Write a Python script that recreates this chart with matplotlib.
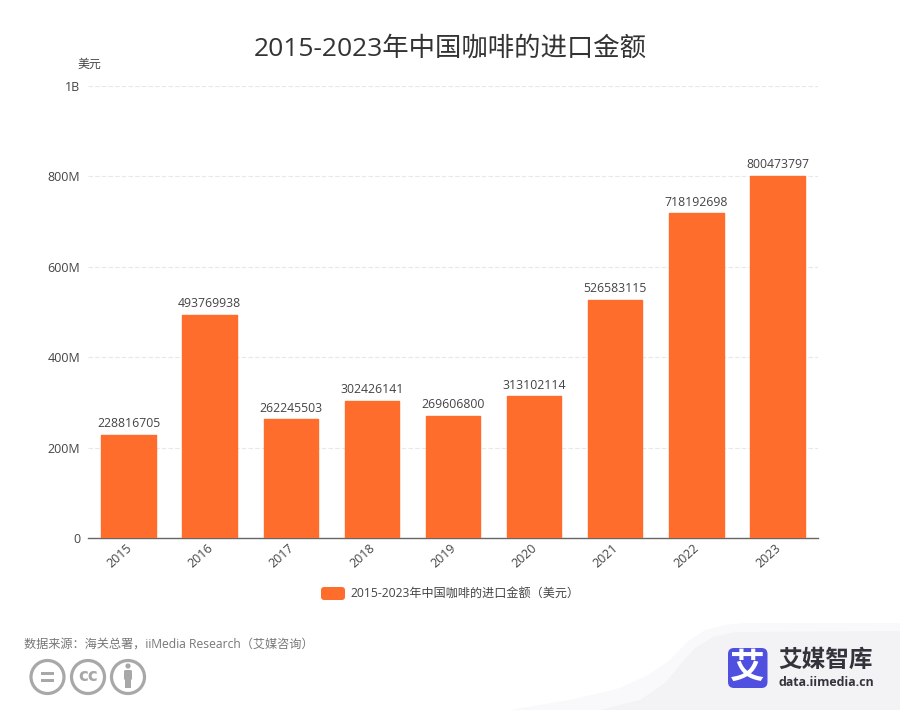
import matplotlib
matplotlib.use("Agg")
import matplotlib.pyplot as plt
from matplotlib.patches import FancyBboxPatch, Circle, Polygon, Rectangle
from matplotlib.transforms import ScaledTranslation
import numpy as np

FONTS = ['Open Sans', 'Noto Sans CJK SC', 'DejaVu Sans']
plt.rcParams['font.family'] = FONTS

years = ['2015', '2016', '2017', '2018', '2019', '2020', '2021', '2022', '2023']
values = [228816705, 493769938, 262245503, 302426141, 269606800, 313102114, 526583115, 718192698, 800473797]
y_ticks = [0, 200e6, 400e6, 600e6, 800e6, 1e9]
y_labels = ['0', '200M', '400M', '600M', '800M', '1B']
title = '2015-2023年中国咖啡的进口金额'
series_name = '2015-2023年中国咖啡的进口金额（美元）'
source = '数据来源：海关总署，iiMedia Research（艾媒咨询）'

W, H = 900, 710
ORANGE = '#FF6D2D'
TXT = '#444444'
fig = plt.figure(figsize=(W / 100, H / 100), dpi=100, facecolor='white')

# pixel-space backdrop
bg = fig.add_axes([0, 0, 1, 1], zorder=0)
bg.set_xlim(0, W); bg.set_ylim(H, 0); bg.axis('off')
bg.add_patch(Polygon([(510, 710), (570, 700), (620, 688), (650, 674), (670, 660), (687, 642),
                      (705, 630), (725, 625), (745, 623), (900, 623), (900, 710)], fc='#F9F9FB', ec='none'))
bg.add_patch(Polygon([(600, 710), (640, 700), (665, 683), (680, 665), (695, 648), (713, 637),
                      (735, 632), (900, 631), (900, 710)], fc='#F3F3F6', ec='none'))

ax = fig.add_axes([88 / W, 1 - 538 / H, (818 - 88) / W, (538 - 86) / H], zorder=1)
ax.patch.set_alpha(0)
x = np.arange(len(years))
bars = ax.bar(x, values, width=0.672, color=ORANGE, edgecolor=ORANGE, linewidth=1,
              joinstyle='round', zorder=3)
ax.set_xlim(-0.5, len(years) - 0.5)
ax.set_ylim(0, 1e9)
ax.set_xticks(x, years, rotation=42, ha='right', va='top', rotation_mode='anchor', fontsize=9, color=TXT)
ax.set_yticks(y_ticks, y_labels, fontsize=9, color=TXT)
ax.tick_params(axis='both', length=0)
ax.tick_params(axis='x', pad=2.5)
ax.tick_params(axis='y', pad=5.5)
shift = ScaledTranslation(-3 / 100, 0, fig.dpi_scale_trans)
for lab in ax.get_xticklabels():
    lab.set_transform(lab.get_transform() + shift)
ax.grid(axis='y', color='#E8E8E8', linestyle=(0, (4, 2)), linewidth=0.8, zorder=0)
ax.set_axisbelow(True)
for s in ['top', 'right', 'left']:
    ax.spines[s].set_visible(False)
ax.spines['bottom'].set_color('#666666')
ax.spines['bottom'].set_linewidth(1)
ax.bar_label(bars, labels=[str(v) for v in values], padding=3.5, fontsize=8.8, color=TXT)

fig.text(450 / W, 1 - 49 / H, title, ha='center', va='center', fontsize=19, color='#333333')
fig.text(89 / W, 1 - 64 / H, '美元', ha='center', va='center', fontsize=8.6, color=TXT)

# top overlay in pixel coordinates
ov = fig.add_axes([0, 0, 1, 1], zorder=2)
ov.set_xlim(0, W); ov.set_ylim(H, 0); ov.axis('off')
ov.patch.set_alpha(0)

# legend
ov.add_patch(FancyBboxPatch((321, 587), 24, 13, boxstyle='round,pad=0,rounding_size=3', fc=ORANGE, ec='none'))
ov.text(350, 593, series_name, ha='left', va='center', fontsize=8.7, color=TXT)

# source
ov.text(24, 644, source, ha='left', va='center', fontsize=8.75, color='#777777')

# cc badges
G = '#A8A8A8'
for cx in (47.5, 88, 128):
    ov.add_patch(Circle((cx, 677), 16.5, fc='white', ec=G, lw=2.3))
ov.add_patch(Rectangle((41, 671.5), 13, 3.2, fc=G, ec='none'))
ov.add_patch(Rectangle((41, 678.5), 13, 3.2, fc=G, ec='none'))
ov.text(88, 676, 'cc', ha='center', va='center', fontsize=12, color=G, fontweight='bold', family='DejaVu Sans')
ov.add_patch(Circle((128, 666), 2.6, fc=G, ec='none'))
ov.add_patch(FancyBboxPatch((124, 670), 8, 10, boxstyle='round,pad=0,rounding_size=1.5', fc=G, ec='none'))
ov.add_patch(Rectangle((125.3, 678), 5.4, 10, fc=G, ec='none'))

# logo
ov.add_patch(FancyBboxPatch((728, 648), 39.5, 40, boxstyle='round,pad=0,rounding_size=6', fc='#4F4FE0', ec='none'))
ov.text(747.5, 667, '艾', ha='center', va='center', fontsize=25, color='white', fontweight='bold', family='Noto Sans CJK SC')
ov.text(826, 660, '艾媒智库', ha='center', va='center', fontsize=17, color='#33333B', fontweight='bold', family='Noto Sans CJK SC')
ov.text(826, 682, 'data.iimedia.cn', ha='center', va='center', fontsize=8.9, color='#33333B', fontweight='bold', family='Open Sans')

fig.savefig('out.png', dpi=100, facecolor='white')
